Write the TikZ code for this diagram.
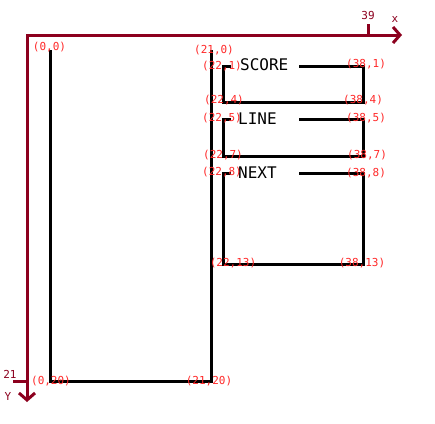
\documentclass[tikz,border=0pt]{standalone}
\usepackage{fontspec}
\newfontfamily\monofont{DejaVu Sans Mono}
\usetikzlibrary{arrows.meta}
\definecolor{axisred}{RGB}{140,0,30}
\definecolor{lblred}{RGB}{255,40,40}
\begin{document}
\begin{tikzpicture}[x=1pt,y=-1pt,
  frame/.style={line width=3pt,black,line join=miter},
  axis/.style={line width=3pt,axisred},
  coord/.style={font=\monofont\fontsize{11}{11}\selectfont, text=lblred, inner sep=0pt},
  axlbl/.style={font=\monofont\fontsize{11}{11}\selectfont, text=axisred, inner sep=0pt},
  title/.style={font=\monofont\fontsize{16}{16}\selectfont, anchor=west, inner sep=0pt}]
\useasboundingbox (0,0) rectangle (435,423);
% axes
\coordinate (O) at (27,35);
\coordinate (xe) at (402,35);
\coordinate (ye) at (27,402);
\draw[axis,{Straight Barb[length=7pt,width=16pt]}-{Straight Barb[length=7pt,width=16pt]}] (ye) -- (O) -- (xe);
\coordinate (t39a) at (368,35); \coordinate (t39b) at (368,24);
\draw[axis] (t39a) -- (t39b);
\coordinate (t21a) at (27,381); \coordinate (t21b) at (13,381);
\draw[axis] (t21a) -- (t21b);
\node[axlbl] (l39) at (368,15) {39};
\node[axlbl] (lx) at (395,19) {x};
\node[axlbl] (l21) at (10,374) {21};
\node[axlbl] (lY) at (8,396) {Y};
% main frame
\coordinate (a) at (50,50); \coordinate (b) at (50,381);
\coordinate (c) at (211,381); \coordinate (d) at (211,50);
\draw[frame] (a) -- (b) -- (c) -- (d);
% boxes
\coordinate (s1) at (231,66); \coordinate (s2) at (223,66); \coordinate (s3) at (223,102);
\coordinate (s4) at (363,102); \coordinate (s5) at (363,66); \coordinate (s6) at (299,66);
\draw[frame] (s1) -- (s2) -- (s3) -- (s4) -- (s5) -- (s6);
\coordinate (l1) at (231,119); \coordinate (l2) at (223,119); \coordinate (l3) at (223,156);
\coordinate (l4) at (363,156); \coordinate (l5) at (363,119); \coordinate (l6) at (299,119);
\draw[frame] (l1) -- (l2) -- (l3) -- (l4) -- (l5) -- (l6);
\coordinate (n1) at (231,173); \coordinate (n2) at (223,173); \coordinate (n3) at (223,264);
\coordinate (n4) at (363,264); \coordinate (n5) at (363,173); \coordinate (n6) at (299,173);
\draw[frame] (n1) -- (n2) -- (n3) -- (n4) -- (n5) -- (n6);
% titles
\node[title] (score) at (240,65) {SCORE};
\node[title] (line) at (238,119) {LINE};
\node[title] (next) at (238,173) {NEXT};
% coordinate labels
\node[coord] (c00) at (49.5,47) {(0,0)};
\node[coord] (c210) at (214,50) {(21,0)};
\node[coord] (c221) at (222,66) {(22,1)};
\node[coord] (c381) at (366,64) {(38,1)};
\node[coord] (c224) at (224,100) {(22,4)};
\node[coord] (c384) at (363,100) {(38,4)};
\node[coord] (c225) at (222,118) {(22,5)};
\node[coord] (c385) at (366,118) {(38,5)};
\node[coord] (c227) at (223,155) {(22,7)};
\node[coord] (c387) at (367,155) {(38,7)};
\node[coord] (c228) at (222,172) {(22,8)};
\node[coord] (c388) at (366,173) {(38,8)};
\node[coord] (c2213) at (233,263) {(22,13)};
\node[coord] (c3813) at (362,263) {(38,13)};
\node[coord] (c020) at (51,381) {(0,20)};
\node[coord] (c2120) at (209,381) {(21,20)};
\end{tikzpicture}
\end{document}
